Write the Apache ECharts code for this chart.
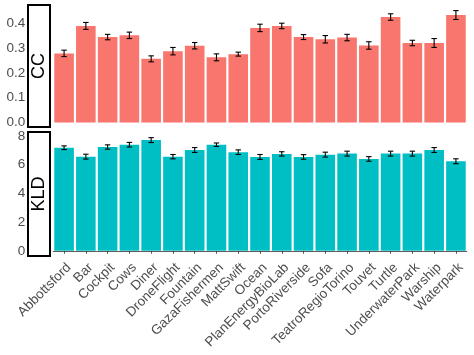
<!DOCTYPE html>
<html><head><meta charset="utf-8">
<script src="https://cdn.jsdelivr.net/npm/echarts@6/dist/echarts.min.js"></script>
<style>html,body{margin:0;padding:0;background:#fff}#c{width:474px;height:355px}</style>
</head><body><div id="c"></div>
<script>
const categories = ["Abbottsford","Bar","Cockpit","Cows","Diner","DroneFlight","Fountain","GazaFishermen","MattSwift","Ocean","PlanEnergyBioLab","PortoRiverside","Sofa","TeatroRegioTorino","Touvet","Turtle","UnderwaterPark","Warship","Waterpark"];
const ccValues = [0.279,0.390,0.345,0.352,0.257,0.288,0.310,0.263,0.276,0.382,0.390,0.345,0.336,0.343,0.311,0.426,0.321,0.321,0.434];
const ccErrors = [0.013,0.014,0.011,0.013,0.012,0.015,0.013,0.014,0.008,0.015,0.011,0.010,0.015,0.013,0.015,0.013,0.011,0.018,0.018];
const kldValues = [7.17,6.55,7.22,7.38,7.70,6.55,7.01,7.38,6.86,6.53,6.74,6.53,6.69,6.76,6.39,6.76,6.76,7.01,6.23];
const kldErrors = [0.13,0.17,0.15,0.16,0.17,0.15,0.17,0.12,0.16,0.17,0.15,0.16,0.17,0.17,0.16,0.17,0.17,0.17,0.17];
const ccTicks = [0, 0.1, 0.2, 0.3, 0.4];
const kldTicks = [0, 2, 4, 6, 8];
const panelNames = ["CC", "KLD"];

function ext(v, e) {
  let m = 0;
  v.forEach((x, i) => { m = Math.max(m, x + e[i]); });
  return [-0.05 * m, 1.05 * m];
}
const ccExt = ext(ccValues, ccErrors);
const kldExt = ext(kldValues, kldErrors);

const chart = echarts.init(document.getElementById('c'), null, {renderer: 'canvas'});
const font = 'Liberation Sans, Arial, sans-serif';
const labelColor = '#4d4d4d';

function errSeries(vals, errs, idx) {
  return {
    type: 'custom', xAxisIndex: idx, yAxisIndex: idx, z: 5,
    data: vals.map((v, i) => [i, v - errs[i], v + errs[i]]),
    renderItem: function (params, api) {
      const lo = api.coord([api.value(0), api.value(1)]);
      const hi = api.coord([api.value(0), api.value(2)]);
      const w = api.size([1, 0])[0] * 0.25 / 2;
      const st = {stroke: '#000', lineWidth: 1.1};
      return {type: 'group', children: [
        {type: 'line', shape: {x1: lo[0], y1: lo[1], x2: hi[0], y2: hi[1]}, style: st},
        {type: 'line', shape: {x1: lo[0] - w, y1: lo[1], x2: lo[0] + w, y2: lo[1]}, style: st},
        {type: 'line', shape: {x1: hi[0] - w, y1: hi[1], x2: hi[0] + w, y2: hi[1]}, style: st}
      ]};
    }
  };
}

function yAxis(idx, e, ticks, fmt) {
  return {
    type: 'value', gridIndex: idx, min: e[0], max: e[1],
    splitLine: {show: false}, axisLine: {show: false}, axisTick: {show: false},
    axisLabel: {customValues: ticks, margin: 28, color: labelColor, fontSize: 13.5, fontFamily: font, formatter: fmt}
  };
}

const stripX = 28, stripW = 22;
const option = {
  animation: false,
  backgroundColor: '#fff',
  grid: [
    {left: 53.2, width: 413.6, top: 5, height: 123},
    {left: 53.2, width: 413.6, top: 132, height: 124.5}
  ],
  xAxis: [
    {type: 'category', gridIndex: 0, data: categories, show: false},
    {type: 'category', gridIndex: 1, data: categories,
     axisLine: {show: true, lineStyle: {color: '#333', width: 0.8}},
     axisTick: {show: true, alignWithLabel: true, length: 3, lineStyle: {color: '#333', width: 0.8}},
     axisLabel: {rotate: 45, interval: 0, margin: 4, verticalAlign: 'top', color: labelColor, fontSize: 13.5, fontFamily: font}}
  ],
  yAxis: [
    yAxis(0, ccExt, ccTicks, v => v.toFixed(1)),
    yAxis(1, kldExt, kldTicks, v => String(Math.round(v)))
  ],
  series: [
    {type: 'bar', xAxisIndex: 0, yAxisIndex: 0, data: ccValues, barCategoryGap: '10%', itemStyle: {color: '#F8766D'}},
    {type: 'bar', xAxisIndex: 1, yAxisIndex: 1, data: kldValues, barCategoryGap: '10%', itemStyle: {color: '#00BFC4'}},
    errSeries(ccValues, ccErrors, 0),
    errSeries(kldValues, kldErrors, 1)
  ],
  graphic: [
    {type: 'rect', shape: {x: stripX, y: 5, width: stripW, height: 122}, style: {fill: '#fff', stroke: '#000', lineWidth: 2}},
    {type: 'rect', shape: {x: stripX, y: 132, width: stripW, height: 124}, style: {fill: '#fff', stroke: '#000', lineWidth: 2}},
    {type: 'text', x: stripX + stripW / 2, y: 66, rotation: Math.PI / 2,
     style: {text: panelNames[0], fill: '#000', font: '18px ' + font, textAlign: 'center', textVerticalAlign: 'middle'}},
    {type: 'text', x: stripX + stripW / 2, y: 194, rotation: Math.PI / 2,
     style: {text: panelNames[1], fill: '#000', font: '18px ' + font, textAlign: 'center', textVerticalAlign: 'middle'}}
  ]
};
chart.setOption(option);
</script>
</body></html>
